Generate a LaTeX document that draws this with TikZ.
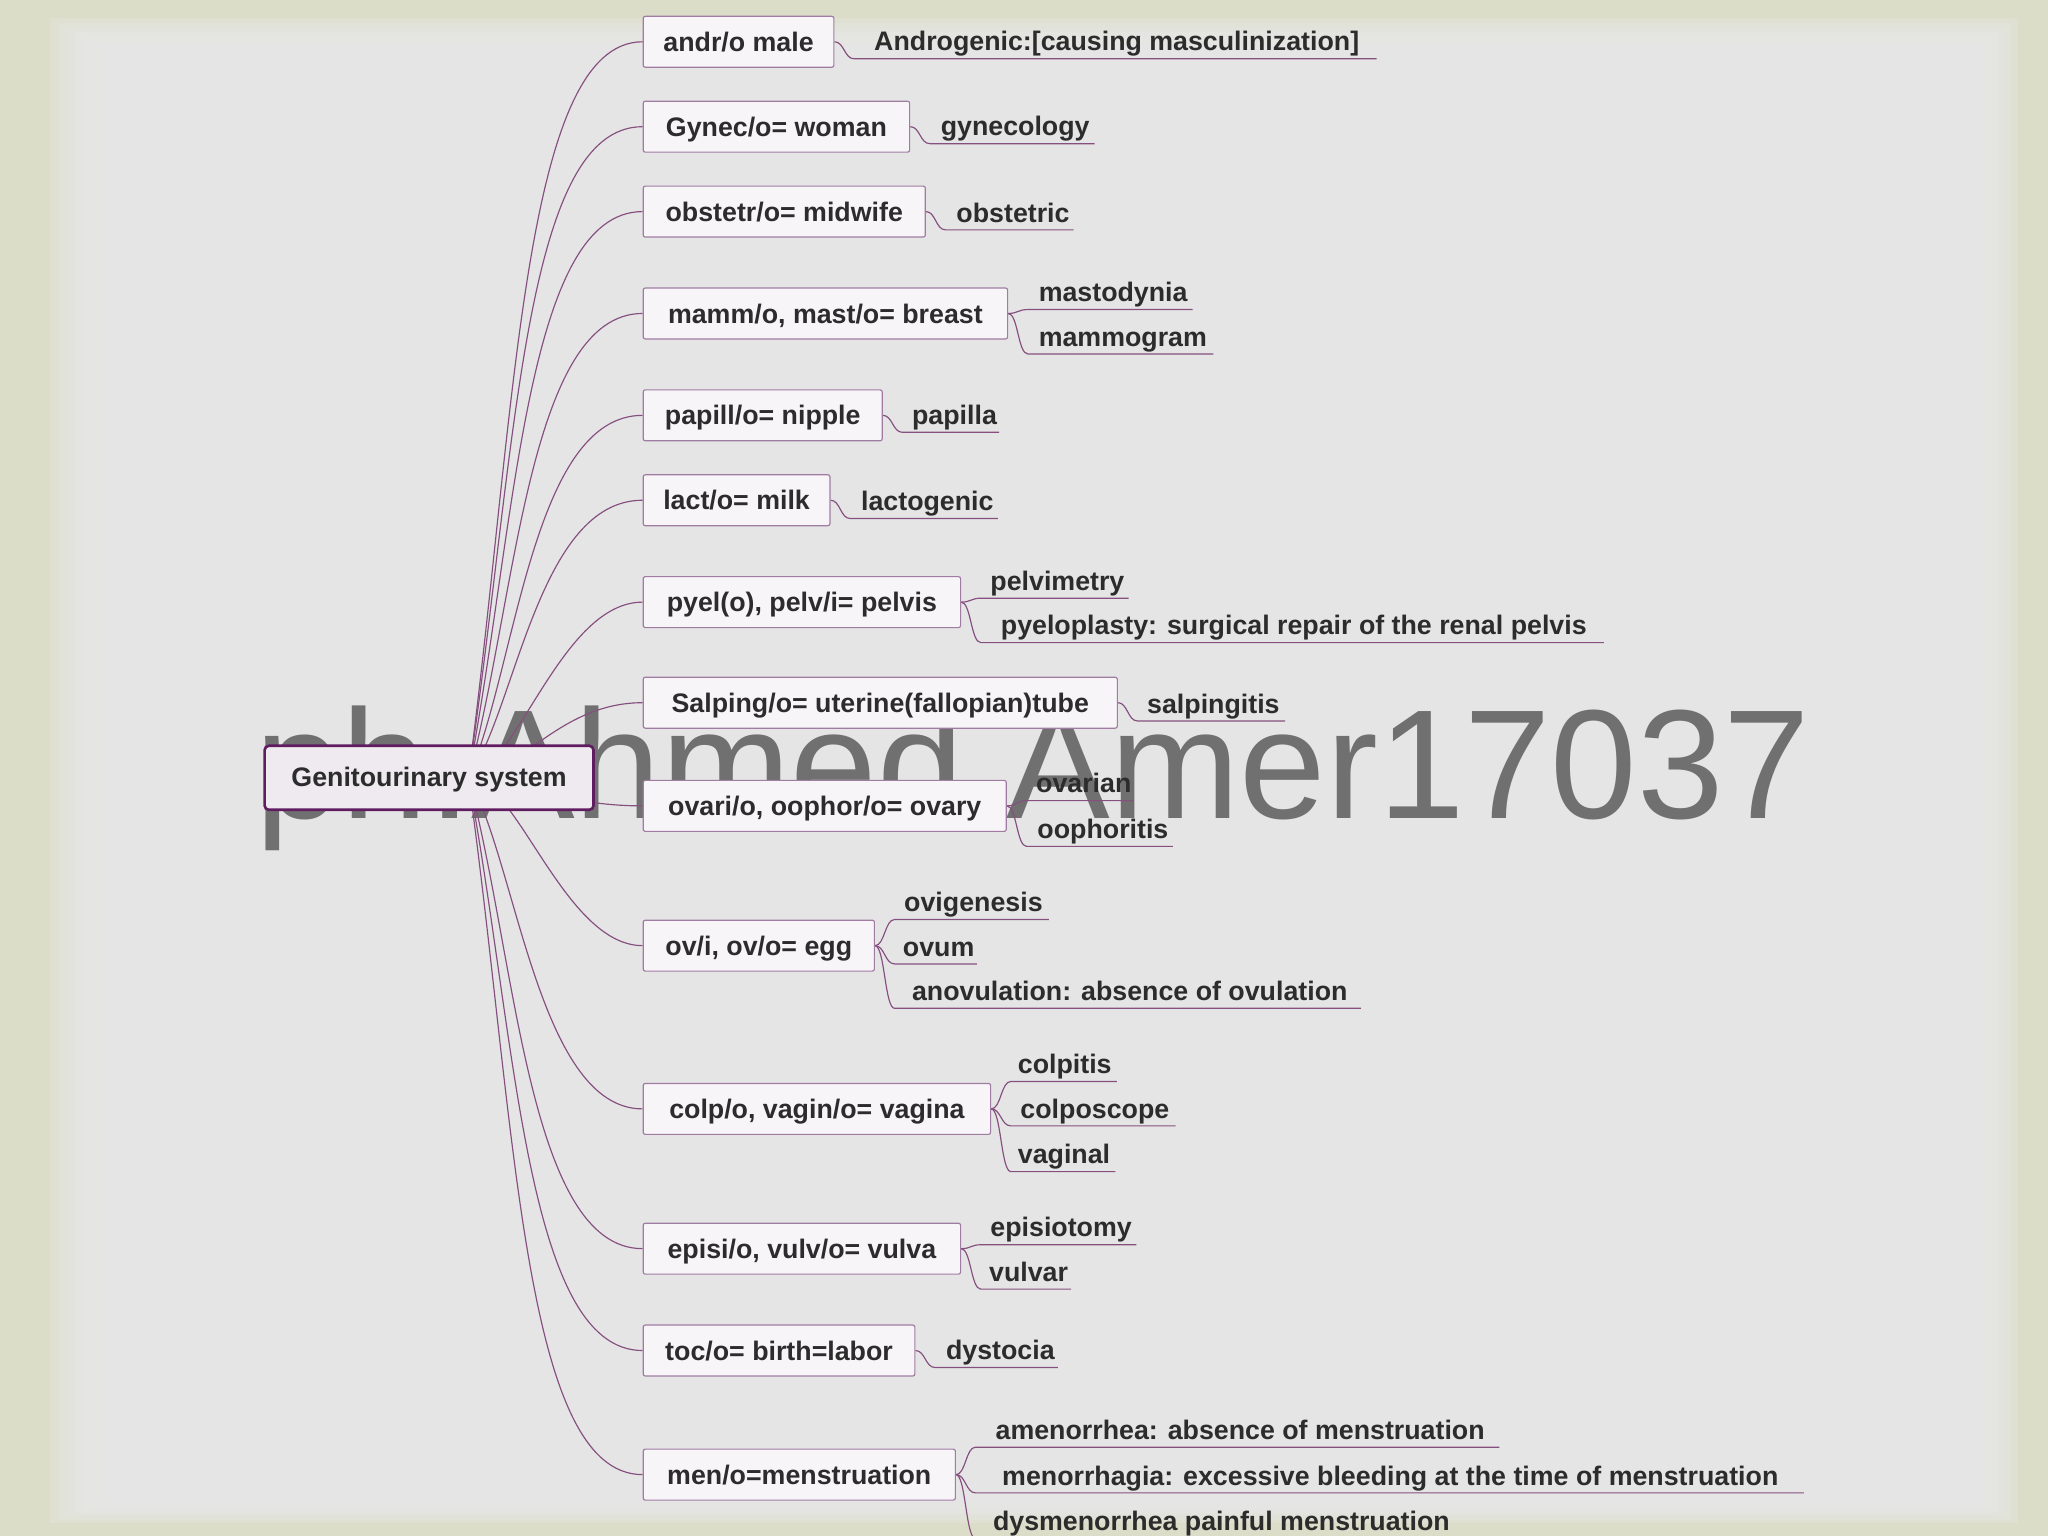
\documentclass[tikz,border=0pt]{standalone}
\usepackage{fontspec}
\setmainfont{Liberation Sans}
\usetikzlibrary{calc}
\pgfdeclarelayer{bglayer}
\pgfdeclarelayer{lines}
\pgfsetlayers{bglayer,lines,main}
\definecolor{txt}{HTML}{2C2C2C}
\definecolor{bgout}{HTML}{DCDDC8}
\definecolor{bgin}{HTML}{E8E8E9}
\definecolor{wmgray}{HTML}{707070}
\definecolor{linecol}{HTML}{85507F}
\definecolor{childfill}{HTML}{F8F5F8}
\definecolor{childborder}{HTML}{A07CA2}
\definecolor{rootfill}{HTML}{EEEAEF}
\definecolor{rootborder}{HTML}{5F1C60}
\tikzset{
  conn/.style={draw=linecol, line width=0.45pt},
  topicbox/.style={draw=childborder, fill=childfill, line width=0.45pt, rounded corners=0.8pt,
    inner xsep=0pt, inner ysep=0pt, minimum height=19.5pt, minimum width=#1, text height=9.3pt, text depth=2pt,
    text=txt, font=\fontsize{10.25}{12}\selectfont\bfseries, anchor=west},
  rootbox/.style={draw=rootborder, fill=rootfill, line width=1pt, rounded corners=1.6pt,
    inner xsep=10.25pt, inner ysep=0pt, minimum height=24.5pt, text height=8.8pt, text depth=2pt,
    text=txt, font=\fontsize{10.25}{12}\selectfont\bfseries},
  leaftext/.style={anchor=base west, inner sep=0pt, text=txt, font=\fontsize{10.25}{12}\selectfont\bfseries},
}
\newcommand{\mmbranch}[3]{\draw[conn] (hub) .. controls ($(hub)!#2!(hub |- #1.west)+(37,0)$) and ($(#1.west)+(-#3,0)$) .. (#1.west);}
\newcommand{\mmleaf}[6]{%
  \coordinate (#1y) at (0,#4);
  \coordinate (#1s) at ($(#2.east |- #1y)+(15,0)$);
  \coordinate (#1e) at (#5,#4);
  \node[leaftext] (#1) at ($(#2.east |- #1y)+(#3,-6)$) {#6};
  \begin{pgfonlayer}{lines}
  \draw[conn] (#2.east) .. controls +(7.5,0) and +(-7.5,0) .. (#1s) -- (#1e);
  \end{pgfonlayer}
}
\begin{document}
\begin{tikzpicture}[x=0.5pt,y=-0.5pt]
\useasboundingbox (0,0) rectangle (1568,1176);
\clip (0,0) rectangle (1568,1176);
\begin{pgfonlayer}{bglayer}
\fill[bgout] (0,0) rectangle (1568,1176);
\foreach \i in {0,...,9} {
  \fill[bgin, opacity=0.3] (38+6.5*\i, 14+3.6*\i) rectangle (1545-5*\i, 1166-2.6*\i);
}
\node[anchor=base west, inner sep=0pt, text=wmgray, font=\fontsize{59.5}{60}\selectfont] (wm) at (195,627) {ph.Ahmed Amer17037};
\end{pgfonlayer}

\node[rootbox] (root) at (328.5,595.5) {Genitourinary system};
\coordinate (hub) at ($(root.center)+(30,0)$);

\node[topicbox=73pt] (c1) at (492,32) {andr/o male};
\node[topicbox=102pt] (c2) at (492,97) {Gynec/o= woman};
\node[topicbox=108pt] (c3) at (492,162) {obstetr/o= midwife};
\node[topicbox=139.5pt] (c4) at (492,240) {mamm/o, mast/o= breast};
\node[topicbox=91.5pt] (c5) at (492,318) {papill/o= nipple};
\node[topicbox=71.5pt] (c6) at (492,383) {lact/o= milk};
\node[topicbox=121.5pt] (c7) at (492,461) {pyel(o), pelv/i= pelvis};
\node[topicbox=181.5pt] (c8) at (492,538) {Salping/o= uterine(fallopian)tube};
\node[topicbox=139pt] (c9) at (492,617) {ovari/o, oophor/o= ovary};
\node[topicbox=88.5pt] (c10) at (492,724) {ov/i, ov/o= egg};
\node[topicbox=133pt] (c11) at (492,849) {colp/o, vagin/o= vagina};
\node[topicbox=121.5pt] (c12) at (492,956) {episi/o, vulv/o= vulva};
\node[topicbox=104pt] (c13) at (492,1034) {toc/o= birth=labor};
\node[topicbox=119.5pt] (c14) at (492,1129) {men/o=menstruation};

\begin{pgfonlayer}{lines}
\mmbranch{c1}{0.5}{92}
\mmbranch{c2}{0.5}{92}
\mmbranch{c3}{0.45}{90}
\mmbranch{c4}{0.38}{88}
\mmbranch{c5}{0.3}{85}
\mmbranch{c6}{0.25}{80}
\mmbranch{c7}{0.05}{62}
\mmbranch{c8}{0}{65}
\mmbranch{c9}{0}{65}
\mmbranch{c10}{0}{60}
\mmbranch{c11}{0.25}{80}
\mmbranch{c12}{0.38}{88}
\mmbranch{c13}{0.45}{90}
\mmbranch{c14}{0.5}{92}
\end{pgfonlayer}

\mmleaf{l1}{c1}{30}{45}{1054}{Androgenic:[causing masculinization]}
\mmleaf{l2}{c2}{23}{110}{838}{gynecology}
\mmleaf{l3}{c3}{23}{176}{822}{obstetric}
\mmleaf{l4a}{c4}{23}{237}{913}{mastodynia}
\mmleaf{l4b}{c4}{23}{271}{929}{mammogram}
\mmleaf{l5}{c5}{22}{331}{765}{papilla}
\mmleaf{l6}{c6}{23}{397}{764}{lactogenic}
\mmleaf{l7a}{c7}{22}{458}{864}{pelvimetry}
\mmleaf{l7b}{c7}{30}{492}{1228}{pyeloplasty: surgical repair of the renal pelvis}
\mmleaf{l8}{c8}{22}{552}{984}{salpingitis}
\mmleaf{l9a}{c9}{22}{613}{868}{ovarian}
\mmleaf{l9b}{c9}{23}{648}{898}{oophoritis}
\mmleaf{l10a}{c10}{22}{704}{803}{ovigenesis}
\mmleaf{l10b}{c10}{21}{738}{748}{ovum}
\mmleaf{l10c}{c10}{28}{772}{1042}{anovulation: absence of ovulation}
\mmleaf{l11a}{c11}{20}{828}{855}{colpitis}
\mmleaf{l11b}{c11}{22}{862}{900}{colposcope}
\mmleaf{l11c}{c11}{20}{897}{854}{vaginal}
\mmleaf{l12a}{c12}{22}{953}{870}{episiotomy}
\mmleaf{l12b}{c12}{21}{987}{820}{vulvar}
\mmleaf{l13}{c13}{23}{1047}{810}{dystocia}
\mmleaf{l14a}{c14}{30}{1108}{1148}{amenorrhea: absence of menstruation}
\mmleaf{l14b}{c14}{35}{1143}{1381}{menorrhagia: excessive bleeding at the time of menstruation}
\mmleaf{l14c}{c14}{28}{1178}{1124}{dysmenorrhea painful menstruation}
\end{tikzpicture}
\end{document}
